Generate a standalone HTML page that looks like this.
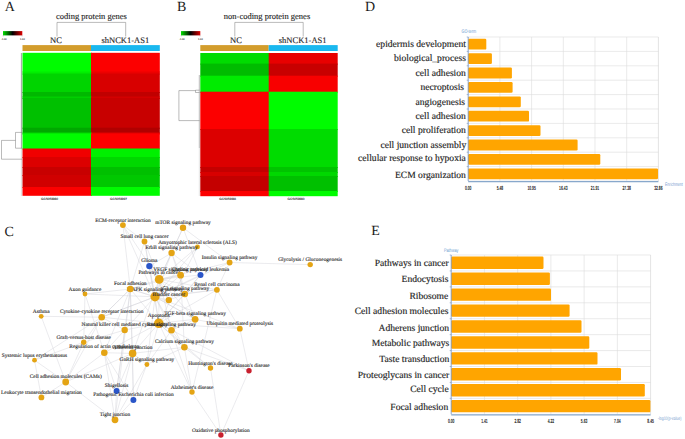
<!DOCTYPE html>
<html><head><meta charset="utf-8"><style>
html,body{margin:0;padding:0;background:#fff;width:685px;height:439px;overflow:hidden}
svg{display:block}
text{text-rendering:geometricPrecision}
</style></head><body>
<svg width="685" height="439" viewBox="0 0 685 439">
<rect width="685" height="439" fill="#fff"/>
<text x="4.70" y="10.50" font-size="14" fill="#1a1a1a" text-anchor="start" font-family='"Liberation Serif", serif' >A</text>
<text x="176.90" y="10.50" font-size="14" fill="#1a1a1a" text-anchor="start" font-family='"Liberation Serif", serif' >B</text>
<text x="4.60" y="235.50" font-size="14" fill="#1a1a1a" text-anchor="start" font-family='"Liberation Serif", serif' >C</text>
<text x="365.00" y="10.60" font-size="14" fill="#1a1a1a" text-anchor="start" font-family='"Liberation Serif", serif' >D</text>
<text x="371.20" y="235.40" font-size="14" fill="#1a1a1a" text-anchor="start" font-family='"Liberation Serif", serif' >E</text>
<defs><linearGradient id="lg22" x1="0" x2="1"><stop offset="0" stop-color="#00e000"/><stop offset="0.5" stop-color="#000"/><stop offset="1" stop-color="#e00000"/></linearGradient></defs>
<rect x="3.00" y="31.10" width="19.30" height="4.30" fill="url(#lg22)" />
<line x1="3.20" y1="35.40" x2="3.20" y2="36.40" stroke="#555" stroke-width="0.3" />
<line x1="22.10" y1="35.40" x2="22.10" y2="36.40" stroke="#555" stroke-width="0.3" />
<text x="1.20" y="39.90" font-size="2.4" fill="#333" text-anchor="start" font-family='"Liberation Sans", sans-serif' font-weight="bold">-1.00</text>
<text x="20.10" y="39.90" font-size="2.4" fill="#333" text-anchor="start" font-family='"Liberation Sans", sans-serif' font-weight="bold">1.00</text>
<text x="56.00" y="18.90" font-size="8.5" fill="#1e1e1e" text-anchor="start" font-family='"Liberation Serif", serif' stroke="#1e1e1e" stroke-width="0.12">coding protein genes</text>
<line x1="57.00" y1="22.40" x2="125.70" y2="22.40" stroke="#777" stroke-width="0.5" />
<line x1="57.00" y1="22.40" x2="57.00" y2="36.50" stroke="#777" stroke-width="0.5" />
<line x1="125.70" y1="22.40" x2="125.70" y2="36.50" stroke="#777" stroke-width="0.5" />
<text x="50.00" y="42.60" font-size="8.5" fill="#1e1e1e" text-anchor="start" font-family='"Liberation Serif", serif' stroke="#1e1e1e" stroke-width="0.12">NC</text>
<text x="101.50" y="42.60" font-size="8.5" fill="#1e1e1e" text-anchor="start" font-family='"Liberation Serif", serif' stroke="#1e1e1e" stroke-width="0.12">shNCK1-AS1</text>
<rect x="22.50" y="45.10" width="68.50" height="5.90" fill="#d39d2c" />
<rect x="91.00" y="45.10" width="68.80" height="5.90" fill="#1ab8ef" />
<rect x="22.50" y="52.80" width="69.50" height="19.70" fill="#00fc00" />
<rect x="91.00" y="52.80" width="68.80" height="19.70" fill="#fc0000" />
<rect x="22.50" y="71.50" width="69.50" height="3.00" fill="#00ee00" />
<rect x="91.00" y="71.50" width="68.80" height="3.00" fill="#ec0000" />
<rect x="22.50" y="73.50" width="69.50" height="19.50" fill="#00d400" />
<rect x="91.00" y="73.50" width="68.80" height="19.50" fill="#d80000" />
<rect x="22.50" y="92.00" width="69.50" height="5.50" fill="#00b800" />
<rect x="91.00" y="92.00" width="68.80" height="5.50" fill="#c00000" />
<rect x="22.50" y="96.50" width="69.50" height="2.50" fill="#00d000" />
<rect x="91.00" y="96.50" width="68.80" height="2.50" fill="#d40000" />
<rect x="22.50" y="98.00" width="69.50" height="30.70" fill="#00c000" />
<rect x="91.00" y="98.00" width="68.80" height="30.70" fill="#c80000" />
<rect x="22.50" y="127.70" width="69.50" height="5.80" fill="#00a800" />
<rect x="91.00" y="127.70" width="68.80" height="5.80" fill="#b00000" />
<rect x="22.50" y="132.50" width="69.50" height="2.00" fill="#00d800" />
<rect x="91.00" y="132.50" width="68.80" height="2.00" fill="#e00000" />
<rect x="22.50" y="133.50" width="69.50" height="16.00" fill="#00fc00" />
<rect x="91.00" y="133.50" width="68.80" height="16.00" fill="#fc0000" />
<rect x="22.50" y="148.50" width="69.50" height="9.50" fill="#f00000" />
<rect x="91.00" y="148.50" width="68.80" height="9.50" fill="#00f000" />
<rect x="22.50" y="157.00" width="69.50" height="11.00" fill="#dc0000" />
<rect x="91.00" y="157.00" width="68.80" height="11.00" fill="#00d800" />
<rect x="22.50" y="167.00" width="69.50" height="9.00" fill="#c80000" />
<rect x="91.00" y="167.00" width="68.80" height="9.00" fill="#00c000" />
<rect x="22.50" y="175.00" width="69.50" height="13.00" fill="#d00000" />
<rect x="91.00" y="175.00" width="68.80" height="13.00" fill="#00c800" />
<rect x="22.50" y="187.00" width="69.50" height="8.80" fill="#fc0000" />
<rect x="91.00" y="187.00" width="68.80" height="8.80" fill="#00fc00" />
<text x="41.00" y="199.60" font-size="3.1" fill="#333" text-anchor="start" font-family='"Liberation Sans", sans-serif' stroke="#333" stroke-width="0.1">GCS059980</text>
<text x="110.00" y="199.60" font-size="3.1" fill="#333" text-anchor="start" font-family='"Liberation Sans", sans-serif' stroke="#333" stroke-width="0.1">GCS059997</text>
<line x1="21.40" y1="53.00" x2="21.40" y2="148.50" stroke="#555" stroke-width="0.55" />
<line x1="21.40" y1="148.50" x2="21.40" y2="196.00" stroke="#bbb" stroke-width="0.5" />
<line x1="15.50" y1="132.40" x2="22.00" y2="132.40" stroke="#777" stroke-width="0.5" />
<line x1="15.50" y1="148.20" x2="22.00" y2="148.20" stroke="#777" stroke-width="0.5" />
<line x1="15.50" y1="132.40" x2="15.50" y2="148.20" stroke="#777" stroke-width="0.5" />
<line x1="1.50" y1="140.40" x2="15.50" y2="140.40" stroke="#777" stroke-width="0.5" />
<line x1="1.50" y1="159.20" x2="22.00" y2="159.20" stroke="#777" stroke-width="0.5" />
<line x1="1.50" y1="140.40" x2="1.50" y2="159.20" stroke="#777" stroke-width="0.5" />
<defs><linearGradient id="lg200" x1="0" x2="1"><stop offset="0" stop-color="#00e000"/><stop offset="0.5" stop-color="#000"/><stop offset="1" stop-color="#e00000"/></linearGradient></defs>
<rect x="181.00" y="31.10" width="19.30" height="4.30" fill="url(#lg200)" />
<line x1="181.20" y1="35.40" x2="181.20" y2="36.40" stroke="#555" stroke-width="0.3" />
<line x1="200.10" y1="35.40" x2="200.10" y2="36.40" stroke="#555" stroke-width="0.3" />
<text x="179.20" y="39.90" font-size="2.4" fill="#333" text-anchor="start" font-family='"Liberation Sans", sans-serif' font-weight="bold">-1.00</text>
<text x="198.10" y="39.90" font-size="2.4" fill="#333" text-anchor="start" font-family='"Liberation Sans", sans-serif' font-weight="bold">1.00</text>
<text x="223.80" y="18.90" font-size="8.5" fill="#1e1e1e" text-anchor="start" font-family='"Liberation Serif", serif' stroke="#1e1e1e" stroke-width="0.12">non-coding protein genes</text>
<line x1="234.80" y1="22.40" x2="303.20" y2="22.40" stroke="#777" stroke-width="0.5" />
<line x1="234.80" y1="22.40" x2="234.80" y2="36.50" stroke="#777" stroke-width="0.5" />
<line x1="303.20" y1="22.40" x2="303.20" y2="36.50" stroke="#777" stroke-width="0.5" />
<text x="230.00" y="42.60" font-size="8.5" fill="#1e1e1e" text-anchor="start" font-family='"Liberation Serif", serif' stroke="#1e1e1e" stroke-width="0.12">NC</text>
<text x="278.80" y="42.60" font-size="8.5" fill="#1e1e1e" text-anchor="start" font-family='"Liberation Serif", serif' stroke="#1e1e1e" stroke-width="0.12">shNCK1-AS1</text>
<rect x="200.30" y="45.10" width="68.40" height="5.90" fill="#d39d2c" />
<rect x="268.70" y="45.10" width="69.00" height="5.90" fill="#1ab8ef" />
<rect x="200.30" y="53.00" width="69.40" height="11.60" fill="#00dc00" />
<rect x="268.70" y="53.00" width="69.00" height="11.60" fill="#e80000" />
<rect x="200.30" y="63.60" width="69.40" height="13.10" fill="#00bc00" />
<rect x="268.70" y="63.60" width="69.00" height="13.10" fill="#c80000" />
<rect x="200.30" y="75.70" width="69.40" height="17.00" fill="#00ec00" />
<rect x="268.70" y="75.70" width="69.00" height="17.00" fill="#f80000" />
<rect x="200.30" y="91.70" width="69.40" height="38.30" fill="#fc0000" />
<rect x="268.70" y="91.70" width="69.00" height="38.30" fill="#00fc00" />
<rect x="200.30" y="129.00" width="69.40" height="39.00" fill="#dc0000" />
<rect x="268.70" y="129.00" width="69.00" height="39.00" fill="#00dc00" />
<rect x="200.30" y="167.00" width="69.40" height="6.00" fill="#c40000" />
<rect x="268.70" y="167.00" width="69.00" height="6.00" fill="#00c400" />
<rect x="200.30" y="172.00" width="69.40" height="5.00" fill="#d80000" />
<rect x="268.70" y="172.00" width="69.00" height="5.00" fill="#00d800" />
<rect x="200.30" y="176.00" width="69.40" height="16.00" fill="#c40000" />
<rect x="268.70" y="176.00" width="69.00" height="16.00" fill="#00c000" />
<rect x="200.30" y="191.00" width="69.40" height="5.20" fill="#fc0000" />
<rect x="268.70" y="191.00" width="69.00" height="5.20" fill="#00fc00" />
<text x="219.30" y="199.60" font-size="3.1" fill="#333" text-anchor="start" font-family='"Liberation Sans", sans-serif' stroke="#333" stroke-width="0.1">GCS059981</text>
<text x="287.50" y="199.60" font-size="3.1" fill="#333" text-anchor="start" font-family='"Liberation Sans", sans-serif' stroke="#333" stroke-width="0.1">GCS059980</text>
<line x1="199.30" y1="75.00" x2="199.30" y2="148.00" stroke="#777" stroke-width="0.5" />
<line x1="199.30" y1="148.00" x2="199.30" y2="196.00" stroke="#c8c8c8" stroke-width="0.5" />
<line x1="195.50" y1="90.20" x2="199.60" y2="90.20" stroke="#777" stroke-width="0.5" />
<line x1="195.50" y1="92.50" x2="199.60" y2="92.50" stroke="#777" stroke-width="0.5" />
<line x1="195.50" y1="90.20" x2="195.50" y2="92.50" stroke="#777" stroke-width="0.5" />
<line x1="178.90" y1="90.60" x2="195.50" y2="90.60" stroke="#777" stroke-width="0.5" />
<line x1="178.90" y1="120.60" x2="199.60" y2="120.60" stroke="#777" stroke-width="0.5" />
<line x1="178.90" y1="90.60" x2="178.90" y2="120.60" stroke="#777" stroke-width="0.5" />
<line x1="499.90" y1="37.00" x2="499.90" y2="181.00" stroke="#dcdcdc" stroke-width="0.6" />
<line x1="531.60" y1="37.00" x2="531.60" y2="181.00" stroke="#dcdcdc" stroke-width="0.6" />
<line x1="563.30" y1="37.00" x2="563.30" y2="181.00" stroke="#dcdcdc" stroke-width="0.6" />
<line x1="595.00" y1="37.00" x2="595.00" y2="181.00" stroke="#dcdcdc" stroke-width="0.6" />
<line x1="626.70" y1="37.00" x2="626.70" y2="181.00" stroke="#dcdcdc" stroke-width="0.6" />
<line x1="468.20" y1="37.00" x2="658.40" y2="37.00" stroke="#dcdcdc" stroke-width="0.6" />
<line x1="468.20" y1="51.40" x2="658.40" y2="51.40" stroke="#dcdcdc" stroke-width="0.6" />
<line x1="468.20" y1="65.80" x2="658.40" y2="65.80" stroke="#dcdcdc" stroke-width="0.6" />
<line x1="468.20" y1="80.20" x2="658.40" y2="80.20" stroke="#dcdcdc" stroke-width="0.6" />
<line x1="468.20" y1="94.60" x2="658.40" y2="94.60" stroke="#dcdcdc" stroke-width="0.6" />
<line x1="468.20" y1="109.00" x2="658.40" y2="109.00" stroke="#dcdcdc" stroke-width="0.6" />
<line x1="468.20" y1="123.40" x2="658.40" y2="123.40" stroke="#dcdcdc" stroke-width="0.6" />
<line x1="468.20" y1="137.80" x2="658.40" y2="137.80" stroke="#dcdcdc" stroke-width="0.6" />
<line x1="468.20" y1="152.20" x2="658.40" y2="152.20" stroke="#dcdcdc" stroke-width="0.6" />
<line x1="468.20" y1="166.60" x2="658.40" y2="166.60" stroke="#dcdcdc" stroke-width="0.6" />
<line x1="468.20" y1="181.00" x2="658.40" y2="181.00" stroke="#dcdcdc" stroke-width="0.6" />
<line x1="658.40" y1="37.00" x2="658.40" y2="181.00" stroke="#d0d0d0" stroke-width="0.6" />
<rect x="468.20" y="38.80" width="18.10" height="10.80" fill="#ffa500" rx="1.2"/>
<text x="465.90" y="47.00" font-size="9.6" fill="#1e1e1e" text-anchor="end" font-family='"Liberation Serif", serif' stroke="#1e1e1e" stroke-width="0.15">epidermis development</text>
<line x1="466.70" y1="37.00" x2="468.20" y2="37.00" stroke="#6d8fbf" stroke-width="0.6" />
<rect x="468.20" y="53.20" width="23.70" height="10.80" fill="#ffa500" rx="1.2"/>
<text x="465.90" y="61.40" font-size="9.6" fill="#1e1e1e" text-anchor="end" font-family='"Liberation Serif", serif' stroke="#1e1e1e" stroke-width="0.15">biological_process</text>
<line x1="466.70" y1="51.40" x2="468.20" y2="51.40" stroke="#6d8fbf" stroke-width="0.6" />
<rect x="468.20" y="67.60" width="43.70" height="10.80" fill="#ffa500" rx="1.2"/>
<text x="465.90" y="75.80" font-size="9.6" fill="#1e1e1e" text-anchor="end" font-family='"Liberation Serif", serif' stroke="#1e1e1e" stroke-width="0.15">cell adhesion</text>
<line x1="466.70" y1="65.80" x2="468.20" y2="65.80" stroke="#6d8fbf" stroke-width="0.6" />
<rect x="468.20" y="82.00" width="44.40" height="10.80" fill="#ffa500" rx="1.2"/>
<text x="464.10" y="90.20" font-size="9.6" fill="#1e1e1e" text-anchor="end" font-family='"Liberation Serif", serif' stroke="#1e1e1e" stroke-width="0.15">necroptosis</text>
<line x1="466.70" y1="80.20" x2="468.20" y2="80.20" stroke="#6d8fbf" stroke-width="0.6" />
<rect x="468.20" y="96.40" width="52.60" height="10.80" fill="#ffa500" rx="1.2"/>
<text x="465.10" y="104.60" font-size="9.6" fill="#1e1e1e" text-anchor="end" font-family='"Liberation Serif", serif' stroke="#1e1e1e" stroke-width="0.15">angiogenesis</text>
<line x1="466.70" y1="94.60" x2="468.20" y2="94.60" stroke="#6d8fbf" stroke-width="0.6" />
<rect x="468.20" y="110.80" width="60.80" height="10.80" fill="#ffa500" rx="1.2"/>
<text x="465.90" y="119.40" font-size="9.6" fill="#1e1e1e" text-anchor="end" font-family='"Liberation Serif", serif' stroke="#1e1e1e" stroke-width="0.15">cell adhesion</text>
<line x1="466.70" y1="109.00" x2="468.20" y2="109.00" stroke="#6d8fbf" stroke-width="0.6" />
<rect x="468.20" y="125.20" width="72.30" height="10.80" fill="#ffa500" rx="1.2"/>
<text x="465.90" y="133.40" font-size="9.6" fill="#1e1e1e" text-anchor="end" font-family='"Liberation Serif", serif' stroke="#1e1e1e" stroke-width="0.15">cell proliferation</text>
<line x1="466.70" y1="123.40" x2="468.20" y2="123.40" stroke="#6d8fbf" stroke-width="0.6" />
<rect x="468.20" y="139.60" width="109.40" height="10.80" fill="#ffa500" rx="1.2"/>
<text x="466.20" y="147.80" font-size="9.6" fill="#1e1e1e" text-anchor="end" font-family='"Liberation Serif", serif' stroke="#1e1e1e" stroke-width="0.15">cell junction assembly</text>
<line x1="466.70" y1="137.80" x2="468.20" y2="137.80" stroke="#6d8fbf" stroke-width="0.6" />
<rect x="468.20" y="154.00" width="132.10" height="10.80" fill="#ffa500" rx="1.2"/>
<text x="465.90" y="160.70" font-size="9.6" fill="#1e1e1e" text-anchor="end" font-family='"Liberation Serif", serif' stroke="#1e1e1e" stroke-width="0.15">cellular response to hypoxia</text>
<line x1="466.70" y1="152.20" x2="468.20" y2="152.20" stroke="#6d8fbf" stroke-width="0.6" />
<rect x="468.20" y="168.40" width="189.80" height="10.80" fill="#ffa500" rx="1.2"/>
<text x="465.90" y="177.80" font-size="9.6" fill="#1e1e1e" text-anchor="end" font-family='"Liberation Serif", serif' stroke="#1e1e1e" stroke-width="0.15">ECM organization</text>
<line x1="466.70" y1="166.60" x2="468.20" y2="166.60" stroke="#6d8fbf" stroke-width="0.6" />
<line x1="468.20" y1="37.00" x2="468.20" y2="181.00" stroke="#6d8fbf" stroke-width="0.8" />
<line x1="468.20" y1="181.60" x2="658.40" y2="181.60" stroke="#88a8cc" stroke-width="1.4" />
<text transform="translate(468.20,189.70) scale(0.56,1)" font-size="6.0" fill="#222" text-anchor="middle" font-family='"Liberation Sans", sans-serif' font-weight="bold">0.00</text>
<text transform="translate(499.90,189.70) scale(0.56,1)" font-size="6.0" fill="#222" text-anchor="middle" font-family='"Liberation Sans", sans-serif' font-weight="bold">5.48</text>
<text transform="translate(531.60,189.70) scale(0.56,1)" font-size="6.0" fill="#222" text-anchor="middle" font-family='"Liberation Sans", sans-serif' font-weight="bold">10.95</text>
<text transform="translate(563.30,189.70) scale(0.56,1)" font-size="6.0" fill="#222" text-anchor="middle" font-family='"Liberation Sans", sans-serif' font-weight="bold">16.43</text>
<text transform="translate(595.00,189.70) scale(0.56,1)" font-size="6.0" fill="#222" text-anchor="middle" font-family='"Liberation Sans", sans-serif' font-weight="bold">21.91</text>
<text transform="translate(626.70,189.70) scale(0.56,1)" font-size="6.0" fill="#222" text-anchor="middle" font-family='"Liberation Sans", sans-serif' font-weight="bold">27.38</text>
<text transform="translate(658.40,189.70) scale(0.56,1)" font-size="6.0" fill="#222" text-anchor="middle" font-family='"Liberation Sans", sans-serif' font-weight="bold">32.86</text>
<text transform="translate(461.50,32.60) scale(0.72,1)" font-size="5.2" fill="#6a9ad0" font-family='"Liberation Sans", sans-serif'>GO-term</text>
<text transform="translate(665.00,186.20) scale(0.7,1)" font-size="5.0" fill="#7aa0d0" font-family='"Liberation Sans", sans-serif'>Enrichment</text>
<line x1="484.43" y1="255.00" x2="484.43" y2="414.30" stroke="#dcdcdc" stroke-width="0.6" />
<line x1="517.67" y1="255.00" x2="517.67" y2="414.30" stroke="#dcdcdc" stroke-width="0.6" />
<line x1="550.90" y1="255.00" x2="550.90" y2="414.30" stroke="#dcdcdc" stroke-width="0.6" />
<line x1="584.13" y1="255.00" x2="584.13" y2="414.30" stroke="#dcdcdc" stroke-width="0.6" />
<line x1="617.37" y1="255.00" x2="617.37" y2="414.30" stroke="#dcdcdc" stroke-width="0.6" />
<line x1="451.20" y1="255.00" x2="650.60" y2="255.00" stroke="#dcdcdc" stroke-width="0.6" />
<line x1="451.20" y1="270.93" x2="650.60" y2="270.93" stroke="#dcdcdc" stroke-width="0.6" />
<line x1="451.20" y1="286.86" x2="650.60" y2="286.86" stroke="#dcdcdc" stroke-width="0.6" />
<line x1="451.20" y1="302.79" x2="650.60" y2="302.79" stroke="#dcdcdc" stroke-width="0.6" />
<line x1="451.20" y1="318.72" x2="650.60" y2="318.72" stroke="#dcdcdc" stroke-width="0.6" />
<line x1="451.20" y1="334.65" x2="650.60" y2="334.65" stroke="#dcdcdc" stroke-width="0.6" />
<line x1="451.20" y1="350.58" x2="650.60" y2="350.58" stroke="#dcdcdc" stroke-width="0.6" />
<line x1="451.20" y1="366.51" x2="650.60" y2="366.51" stroke="#dcdcdc" stroke-width="0.6" />
<line x1="451.20" y1="382.44" x2="650.60" y2="382.44" stroke="#dcdcdc" stroke-width="0.6" />
<line x1="451.20" y1="398.37" x2="650.60" y2="398.37" stroke="#dcdcdc" stroke-width="0.6" />
<line x1="451.20" y1="414.30" x2="650.60" y2="414.30" stroke="#dcdcdc" stroke-width="0.6" />
<line x1="650.60" y1="255.00" x2="650.60" y2="414.30" stroke="#d0d0d0" stroke-width="0.6" />
<rect x="451.20" y="256.60" width="92.30" height="12.40" fill="#ffa500" rx="1.2"/>
<text x="448.80" y="266.10" font-size="9.6" fill="#1e1e1e" text-anchor="end" font-family='"Liberation Serif", serif' stroke="#1e1e1e" stroke-width="0.15">Pathways in cancer</text>
<line x1="449.70" y1="255.00" x2="451.20" y2="255.00" stroke="#6d8fbf" stroke-width="0.6" />
<rect x="451.20" y="272.53" width="98.70" height="12.40" fill="#ffa500" rx="1.2"/>
<text x="448.50" y="282.23" font-size="9.6" fill="#1e1e1e" text-anchor="end" font-family='"Liberation Serif", serif' stroke="#1e1e1e" stroke-width="0.15">Endocytosis</text>
<line x1="449.70" y1="270.93" x2="451.20" y2="270.93" stroke="#6d8fbf" stroke-width="0.6" />
<rect x="451.20" y="288.46" width="99.80" height="12.40" fill="#ffa500" rx="1.2"/>
<text x="448.30" y="299.36" font-size="9.6" fill="#1e1e1e" text-anchor="end" font-family='"Liberation Serif", serif' stroke="#1e1e1e" stroke-width="0.15">Ribosome</text>
<line x1="449.70" y1="286.86" x2="451.20" y2="286.86" stroke="#6d8fbf" stroke-width="0.6" />
<rect x="451.20" y="304.39" width="118.40" height="12.40" fill="#ffa500" rx="1.2"/>
<text x="448.50" y="314.49" font-size="9.6" fill="#1e1e1e" text-anchor="end" font-family='"Liberation Serif", serif' stroke="#1e1e1e" stroke-width="0.15">Cell adhesion molecules</text>
<line x1="449.70" y1="302.79" x2="451.20" y2="302.79" stroke="#6d8fbf" stroke-width="0.6" />
<rect x="451.20" y="320.32" width="130.30" height="12.40" fill="#ffa500" rx="1.2"/>
<text x="449.10" y="330.92" font-size="9.6" fill="#1e1e1e" text-anchor="end" font-family='"Liberation Serif", serif' stroke="#1e1e1e" stroke-width="0.15">Adherens junction</text>
<line x1="449.70" y1="318.72" x2="451.20" y2="318.72" stroke="#6d8fbf" stroke-width="0.6" />
<rect x="451.20" y="336.25" width="138.10" height="12.40" fill="#ffa500" rx="1.2"/>
<text x="449.30" y="345.85" font-size="9.6" fill="#1e1e1e" text-anchor="end" font-family='"Liberation Serif", serif' stroke="#1e1e1e" stroke-width="0.15">Metabolic pathways</text>
<line x1="449.70" y1="334.65" x2="451.20" y2="334.65" stroke="#6d8fbf" stroke-width="0.6" />
<rect x="451.20" y="352.18" width="146.30" height="12.40" fill="#ffa500" rx="1.2"/>
<text x="449.30" y="361.78" font-size="9.6" fill="#1e1e1e" text-anchor="end" font-family='"Liberation Serif", serif' stroke="#1e1e1e" stroke-width="0.15">Taste transduction</text>
<line x1="449.70" y1="350.58" x2="451.20" y2="350.58" stroke="#6d8fbf" stroke-width="0.6" />
<rect x="451.20" y="368.11" width="169.80" height="12.40" fill="#ffa500" rx="1.2"/>
<text x="449.30" y="378.21" font-size="9.6" fill="#1e1e1e" text-anchor="end" font-family='"Liberation Serif", serif' stroke="#1e1e1e" stroke-width="0.15">Proteoglycans in cancer</text>
<line x1="449.70" y1="366.51" x2="451.20" y2="366.51" stroke="#6d8fbf" stroke-width="0.6" />
<rect x="451.20" y="384.04" width="193.60" height="12.40" fill="#ffa500" rx="1.2"/>
<text x="448.80" y="392.14" font-size="9.6" fill="#1e1e1e" text-anchor="end" font-family='"Liberation Serif", serif' stroke="#1e1e1e" stroke-width="0.15">Cell cycle</text>
<line x1="449.70" y1="382.44" x2="451.20" y2="382.44" stroke="#6d8fbf" stroke-width="0.6" />
<rect x="451.20" y="399.97" width="199.20" height="12.40" fill="#ffa500" rx="1.2"/>
<text x="448.20" y="409.87" font-size="9.6" fill="#1e1e1e" text-anchor="end" font-family='"Liberation Serif", serif' stroke="#1e1e1e" stroke-width="0.15">Focal adhesion</text>
<line x1="449.70" y1="398.37" x2="451.20" y2="398.37" stroke="#6d8fbf" stroke-width="0.6" />
<line x1="451.20" y1="255.00" x2="451.20" y2="414.30" stroke="#6d8fbf" stroke-width="0.8" />
<line x1="451.20" y1="414.90" x2="650.60" y2="414.90" stroke="#88a8cc" stroke-width="1.4" />
<text transform="translate(451.20,422.80) scale(0.56,1)" font-size="6.0" fill="#222" text-anchor="middle" font-family='"Liberation Sans", sans-serif' font-weight="bold">0.00</text>
<text transform="translate(484.43,422.80) scale(0.56,1)" font-size="6.0" fill="#222" text-anchor="middle" font-family='"Liberation Sans", sans-serif' font-weight="bold">1.41</text>
<text transform="translate(517.67,422.80) scale(0.56,1)" font-size="6.0" fill="#222" text-anchor="middle" font-family='"Liberation Sans", sans-serif' font-weight="bold">2.82</text>
<text transform="translate(550.90,422.80) scale(0.56,1)" font-size="6.0" fill="#222" text-anchor="middle" font-family='"Liberation Sans", sans-serif' font-weight="bold">4.22</text>
<text transform="translate(584.13,422.80) scale(0.56,1)" font-size="6.0" fill="#222" text-anchor="middle" font-family='"Liberation Sans", sans-serif' font-weight="bold">5.63</text>
<text transform="translate(617.37,422.80) scale(0.56,1)" font-size="6.0" fill="#222" text-anchor="middle" font-family='"Liberation Sans", sans-serif' font-weight="bold">7.04</text>
<text transform="translate(650.60,422.80) scale(0.56,1)" font-size="6.0" fill="#222" text-anchor="middle" font-family='"Liberation Sans", sans-serif' font-weight="bold">8.45</text>
<text transform="translate(444.00,252.20) scale(0.72,1)" font-size="5.2" fill="#6a9ad0" font-family='"Liberation Sans", sans-serif'>Pathway</text>
<text transform="translate(657.80,420.00) scale(0.7,1)" font-size="5.0" fill="#7aa0d0" font-family='"Liberation Sans", sans-serif'>-log10(p-value)</text>
<g stroke="#cfcfd6" stroke-width="0.42" fill="none">
<line x1="122.9" y1="225.1" x2="130.3" y2="289.0"/>
<line x1="122.9" y1="225.1" x2="159.2" y2="279.4"/>
<line x1="122.9" y1="225.1" x2="144.5" y2="241.5"/>
<line x1="122.9" y1="225.1" x2="155.0" y2="296.8"/>
<line x1="183.0" y1="227.7" x2="171.6" y2="253.0"/>
<line x1="183.0" y1="227.7" x2="159.2" y2="279.4"/>
<line x1="183.0" y1="227.7" x2="229.6" y2="262.5"/>
<line x1="183.0" y1="227.7" x2="200.5" y2="274.9"/>
<line x1="144.5" y1="241.5" x2="159.2" y2="279.4"/>
<line x1="144.5" y1="241.5" x2="130.3" y2="289.0"/>
<line x1="144.5" y1="241.5" x2="155.0" y2="296.8"/>
<line x1="144.5" y1="241.5" x2="158.8" y2="323.3"/>
<line x1="197.5" y1="246.9" x2="158.8" y2="323.3"/>
<line x1="197.5" y1="246.9" x2="155.0" y2="296.8"/>
<line x1="197.5" y1="246.9" x2="159.2" y2="279.4"/>
<line x1="171.6" y1="253.0" x2="159.2" y2="279.4"/>
<line x1="171.6" y1="253.0" x2="155.0" y2="296.8"/>
<line x1="171.6" y1="253.0" x2="149.4" y2="266.1"/>
<line x1="171.6" y1="253.0" x2="184.8" y2="294.0"/>
<line x1="171.6" y1="253.0" x2="180.6" y2="275.2"/>
<line x1="171.6" y1="253.0" x2="200.5" y2="274.9"/>
<line x1="149.4" y1="266.1" x2="159.2" y2="279.4"/>
<line x1="149.4" y1="266.1" x2="155.0" y2="296.8"/>
<line x1="149.4" y1="266.1" x2="168.8" y2="300.1"/>
<line x1="229.6" y1="262.5" x2="310.2" y2="264.6"/>
<line x1="229.6" y1="262.5" x2="155.0" y2="296.8"/>
<line x1="229.6" y1="262.5" x2="159.2" y2="279.4"/>
<line x1="229.6" y1="262.5" x2="216.9" y2="289.8"/>
<line x1="159.2" y1="279.4" x2="155.0" y2="296.8"/>
<line x1="159.2" y1="279.4" x2="130.3" y2="289.0"/>
<line x1="159.2" y1="279.4" x2="184.8" y2="294.0"/>
<line x1="159.2" y1="279.4" x2="180.6" y2="275.2"/>
<line x1="159.2" y1="279.4" x2="168.8" y2="300.1"/>
<line x1="159.2" y1="279.4" x2="158.8" y2="323.3"/>
<line x1="159.2" y1="279.4" x2="171.5" y2="330.3"/>
<line x1="159.2" y1="279.4" x2="200.5" y2="274.9"/>
<line x1="159.2" y1="279.4" x2="216.9" y2="289.8"/>
<line x1="159.2" y1="279.4" x2="195.1" y2="319.3"/>
<line x1="180.6" y1="275.2" x2="155.0" y2="296.8"/>
<line x1="180.6" y1="275.2" x2="184.8" y2="294.0"/>
<line x1="180.6" y1="275.2" x2="184.4" y2="347.3"/>
<line x1="180.6" y1="275.2" x2="130.3" y2="289.0"/>
<line x1="200.5" y1="274.9" x2="155.0" y2="296.8"/>
<line x1="200.5" y1="274.9" x2="184.8" y2="294.0"/>
<line x1="200.5" y1="274.9" x2="158.8" y2="323.3"/>
<line x1="130.3" y1="289.0" x2="155.0" y2="296.8"/>
<line x1="130.3" y1="289.0" x2="85.0" y2="294.0"/>
<line x1="130.3" y1="289.0" x2="101.7" y2="317.2"/>
<line x1="130.3" y1="289.0" x2="104.3" y2="352.7"/>
<line x1="130.3" y1="289.0" x2="158.8" y2="323.3"/>
<line x1="130.3" y1="289.0" x2="115.0" y2="419.8"/>
<line x1="130.3" y1="289.0" x2="132.6" y2="353.4"/>
<line x1="85.0" y1="294.0" x2="155.0" y2="296.8"/>
<line x1="85.0" y1="294.0" x2="83.7" y2="342.2"/>
<line x1="85.0" y1="294.0" x2="104.3" y2="352.7"/>
<line x1="155.0" y1="296.8" x2="184.8" y2="294.0"/>
<line x1="155.0" y1="296.8" x2="158.8" y2="323.3"/>
<line x1="155.0" y1="296.8" x2="195.1" y2="319.3"/>
<line x1="155.0" y1="296.8" x2="171.5" y2="330.3"/>
<line x1="155.0" y1="296.8" x2="101.7" y2="317.2"/>
<line x1="155.0" y1="296.8" x2="124.7" y2="330.0"/>
<line x1="155.0" y1="296.8" x2="184.4" y2="347.3"/>
<line x1="155.0" y1="296.8" x2="146.9" y2="364.5"/>
<line x1="155.0" y1="296.8" x2="216.9" y2="289.8"/>
<line x1="155.0" y1="296.8" x2="168.8" y2="300.1"/>
<line x1="184.8" y1="294.0" x2="158.8" y2="323.3"/>
<line x1="184.8" y1="294.0" x2="168.8" y2="300.1"/>
<line x1="184.8" y1="294.0" x2="216.9" y2="289.8"/>
<line x1="184.8" y1="294.0" x2="195.1" y2="319.3"/>
<line x1="216.9" y1="289.8" x2="239.8" y2="328.7"/>
<line x1="216.9" y1="289.8" x2="192.0" y2="392.0"/>
<line x1="216.9" y1="289.8" x2="158.8" y2="323.3"/>
<line x1="41.2" y1="316.3" x2="101.7" y2="317.2"/>
<line x1="41.2" y1="316.3" x2="65.7" y2="382.0"/>
<line x1="101.7" y1="317.2" x2="158.8" y2="323.3"/>
<line x1="101.7" y1="317.2" x2="124.7" y2="330.0"/>
<line x1="101.7" y1="317.2" x2="83.7" y2="342.2"/>
<line x1="101.7" y1="317.2" x2="65.7" y2="382.0"/>
<line x1="101.7" y1="317.2" x2="34.5" y2="360.2"/>
<line x1="101.7" y1="317.2" x2="155.0" y2="296.8"/>
<line x1="101.7" y1="317.2" x2="130.3" y2="289.0"/>
<line x1="195.1" y1="319.3" x2="158.8" y2="323.3"/>
<line x1="195.1" y1="319.3" x2="155.0" y2="296.8"/>
<line x1="195.1" y1="319.3" x2="239.8" y2="328.7"/>
<line x1="195.1" y1="319.3" x2="171.5" y2="330.3"/>
<line x1="158.8" y1="323.3" x2="124.7" y2="330.0"/>
<line x1="158.8" y1="323.3" x2="171.5" y2="330.3"/>
<line x1="158.8" y1="323.3" x2="184.4" y2="347.3"/>
<line x1="158.8" y1="323.3" x2="192.0" y2="392.0"/>
<line x1="158.8" y1="323.3" x2="210.5" y2="368.0"/>
<line x1="158.8" y1="323.3" x2="132.6" y2="353.4"/>
<line x1="158.8" y1="323.3" x2="104.3" y2="352.7"/>
<line x1="158.8" y1="323.3" x2="146.9" y2="364.5"/>
<line x1="158.8" y1="323.3" x2="239.8" y2="328.7"/>
<line x1="158.8" y1="323.3" x2="249.0" y2="370.7"/>
<line x1="171.5" y1="330.3" x2="184.4" y2="347.3"/>
<line x1="171.5" y1="330.3" x2="146.9" y2="364.5"/>
<line x1="171.5" y1="330.3" x2="192.0" y2="392.0"/>
<line x1="124.7" y1="330.0" x2="83.7" y2="342.2"/>
<line x1="124.7" y1="330.0" x2="104.3" y2="352.7"/>
<line x1="124.7" y1="330.0" x2="116.6" y2="391.0"/>
<line x1="239.8" y1="328.7" x2="249.0" y2="370.7"/>
<line x1="239.8" y1="328.7" x2="155.0" y2="296.8"/>
<line x1="83.7" y1="342.2" x2="65.7" y2="382.0"/>
<line x1="83.7" y1="342.2" x2="34.5" y2="360.2"/>
<line x1="184.4" y1="347.3" x2="192.0" y2="392.0"/>
<line x1="184.4" y1="347.3" x2="210.5" y2="368.0"/>
<line x1="184.4" y1="347.3" x2="146.9" y2="364.5"/>
<line x1="184.4" y1="347.3" x2="132.6" y2="353.4"/>
<line x1="104.3" y1="352.7" x2="132.6" y2="353.4"/>
<line x1="104.3" y1="352.7" x2="65.7" y2="382.0"/>
<line x1="104.3" y1="352.7" x2="116.6" y2="391.0"/>
<line x1="104.3" y1="352.7" x2="115.0" y2="419.8"/>
<line x1="104.3" y1="352.7" x2="133.4" y2="400.0"/>
<line x1="132.6" y1="353.4" x2="115.0" y2="419.8"/>
<line x1="132.6" y1="353.4" x2="116.6" y2="391.0"/>
<line x1="132.6" y1="353.4" x2="133.4" y2="400.0"/>
<line x1="132.6" y1="353.4" x2="65.7" y2="382.0"/>
<line x1="132.6" y1="353.4" x2="146.9" y2="364.5"/>
<line x1="34.5" y1="360.2" x2="41.4" y2="397.4"/>
<line x1="65.7" y1="382.0" x2="41.4" y2="397.4"/>
<line x1="65.7" y1="382.0" x2="115.0" y2="419.8"/>
<line x1="65.7" y1="382.0" x2="34.5" y2="360.2"/>
<line x1="146.9" y1="364.5" x2="115.0" y2="419.8"/>
<line x1="146.9" y1="364.5" x2="133.4" y2="400.0"/>
<line x1="210.5" y1="368.0" x2="220.9" y2="435.0"/>
<line x1="249.0" y1="370.7" x2="220.9" y2="435.0"/>
<line x1="192.0" y1="392.0" x2="220.9" y2="435.0"/>
<line x1="184.4" y1="347.3" x2="249.0" y2="370.7"/>
<line x1="116.6" y1="391.0" x2="115.0" y2="419.8"/>
<line x1="133.4" y1="400.0" x2="115.0" y2="419.8"/>
<line x1="116.6" y1="391.0" x2="130.3" y2="289.0"/>
<line x1="133.4" y1="400.0" x2="130.3" y2="289.0"/>
<line x1="155.0" y1="296.8" x2="130.3" y2="289.0"/>
<line x1="159.2" y1="279.4" x2="132.6" y2="353.4"/>
</g>
<circle cx="122.9" cy="225.1" r="2.90" fill="#e4a414"/>
<text x="122.90" y="221.50" font-size="5.4" fill="#262626" text-anchor="middle" font-family='"Liberation Serif", serif' stroke="#262626" stroke-width="0.12">ECM-receptor interaction</text>
<circle cx="183.0" cy="227.7" r="3.20" fill="#e4a414"/>
<text x="183.00" y="223.80" font-size="5.4" fill="#262626" text-anchor="middle" font-family='"Liberation Serif", serif' stroke="#262626" stroke-width="0.12">mTOR signaling pathway</text>
<circle cx="144.5" cy="241.5" r="2.90" fill="#e4a414"/>
<text x="144.50" y="237.90" font-size="5.4" fill="#262626" text-anchor="middle" font-family='"Liberation Serif", serif' stroke="#262626" stroke-width="0.12">Small cell lung cancer</text>
<circle cx="197.5" cy="246.9" r="2.40" fill="#e4a414"/>
<text x="197.50" y="243.80" font-size="5.4" fill="#262626" text-anchor="middle" font-family='"Liberation Serif", serif' stroke="#262626" stroke-width="0.12">Amyotrophic lateral sclerosis (ALS)</text>
<circle cx="171.6" cy="253.0" r="3.20" fill="#e4a414"/>
<text x="171.60" y="249.10" font-size="5.4" fill="#262626" text-anchor="middle" font-family='"Liberation Serif", serif' stroke="#262626" stroke-width="0.12">ErbB signaling pathway</text>
<circle cx="149.4" cy="266.1" r="3.20" fill="#2a55c8"/>
<text x="149.40" y="262.20" font-size="5.4" fill="#262626" text-anchor="middle" font-family='"Liberation Serif", serif' stroke="#262626" stroke-width="0.12">Glioma</text>
<circle cx="229.6" cy="262.5" r="2.90" fill="#e4a414"/>
<text x="229.60" y="258.90" font-size="5.4" fill="#262626" text-anchor="middle" font-family='"Liberation Serif", serif' stroke="#262626" stroke-width="0.12">Insulin signaling pathway</text>
<circle cx="310.2" cy="264.6" r="2.70" fill="#e4a414"/>
<text x="310.20" y="261.20" font-size="5.4" fill="#262626" text-anchor="middle" font-family='"Liberation Serif", serif' stroke="#262626" stroke-width="0.12">Glycolysis / Gluconeogenesis</text>
<circle cx="155.0" cy="296.8" r="4.60" fill="#e4a414"/>
<text x="155.00" y="291.10" font-size="5.4" fill="#262626" text-anchor="middle" font-family='"Liberation Serif", serif' stroke="#262626" stroke-width="0.12">MAPK signaling pathway</text>
<circle cx="159.2" cy="279.4" r="4.40" fill="#e4a414"/>
<text x="159.20" y="273.90" font-size="5.4" fill="#262626" text-anchor="middle" font-family='"Liberation Serif", serif' stroke="#262626" stroke-width="0.12">Pathways in cancer</text>
<circle cx="180.6" cy="275.2" r="3.40" fill="#e4a414"/>
<text x="180.60" y="271.10" font-size="5.4" fill="#262626" text-anchor="middle" font-family='"Liberation Serif", serif' stroke="#262626" stroke-width="0.12">VEGF signaling pathway</text>
<circle cx="200.5" cy="274.9" r="3.00" fill="#2a55c8"/>
<text x="200.50" y="271.20" font-size="5.4" fill="#262626" text-anchor="middle" font-family='"Liberation Serif", serif' stroke="#262626" stroke-width="0.12">Chronic myeloid leukemia</text>
<circle cx="130.3" cy="289.0" r="3.30" fill="#e4a414"/>
<text x="130.30" y="284.60" font-size="5.4" fill="#262626" text-anchor="middle" font-family='"Liberation Serif", serif' stroke="#262626" stroke-width="0.12">Focal adhesion</text>
<circle cx="85.0" cy="294.0" r="2.40" fill="#e4a414"/>
<text x="85.00" y="290.90" font-size="5.4" fill="#262626" text-anchor="middle" font-family='"Liberation Serif", serif' stroke="#262626" stroke-width="0.12">Axon guidance</text>
<circle cx="184.8" cy="294.0" r="3.30" fill="#e4a414"/>
<text x="184.80" y="289.60" font-size="5.4" fill="#262626" text-anchor="middle" font-family='"Liberation Serif", serif' stroke="#262626" stroke-width="0.12">p53 signaling pathway</text>
<circle cx="168.8" cy="300.1" r="3.20" fill="#e4a414"/>
<text x="168.80" y="296.20" font-size="5.4" fill="#262626" text-anchor="middle" font-family='"Liberation Serif", serif' stroke="#262626" stroke-width="0.12">Bladder cancer</text>
<circle cx="216.9" cy="289.8" r="2.90" fill="#e4a414"/>
<text x="216.90" y="286.20" font-size="5.4" fill="#262626" text-anchor="middle" font-family='"Liberation Serif", serif' stroke="#262626" stroke-width="0.12">Renal cell carcinoma</text>
<circle cx="41.2" cy="316.3" r="2.40" fill="#e4a414"/>
<text x="41.20" y="313.20" font-size="5.4" fill="#262626" text-anchor="middle" font-family='"Liberation Serif", serif' stroke="#262626" stroke-width="0.12">Asthma</text>
<circle cx="101.7" cy="317.2" r="3.30" fill="#e4a414"/>
<text x="101.70" y="312.80" font-size="5.4" fill="#262626" text-anchor="middle" font-family='"Liberation Serif", serif' stroke="#262626" stroke-width="0.12">Cytokine-cytokine receptor interaction</text>
<circle cx="195.1" cy="319.3" r="3.40" fill="#e4a414"/>
<text x="195.10" y="315.20" font-size="5.4" fill="#262626" text-anchor="middle" font-family='"Liberation Serif", serif' stroke="#262626" stroke-width="0.12">TGF-beta signaling pathway</text>
<circle cx="158.8" cy="323.3" r="4.80" fill="#e4a414"/>
<text x="158.80" y="317.40" font-size="5.4" fill="#262626" text-anchor="middle" font-family='"Liberation Serif", serif' stroke="#262626" stroke-width="0.12">Apoptosis</text>
<circle cx="171.5" cy="330.3" r="3.30" fill="#e4a414"/>
<text x="171.50" y="325.90" font-size="5.4" fill="#262626" text-anchor="middle" font-family='"Liberation Serif", serif' stroke="#262626" stroke-width="0.12">Ras signaling pathway</text>
<circle cx="124.7" cy="330.0" r="3.20" fill="#e4a414"/>
<text x="124.70" y="326.10" font-size="5.4" fill="#262626" text-anchor="middle" font-family='"Liberation Serif", serif' stroke="#262626" stroke-width="0.12">Natural killer cell mediated cytotoxicity</text>
<circle cx="239.8" cy="328.7" r="2.90" fill="#e4a414"/>
<text x="239.80" y="325.10" font-size="5.4" fill="#262626" text-anchor="middle" font-family='"Liberation Serif", serif' stroke="#262626" stroke-width="0.12">Ubiquitin mediated proteolysis</text>
<circle cx="83.7" cy="342.2" r="2.70" fill="#e4a414"/>
<text x="83.70" y="338.80" font-size="5.4" fill="#262626" text-anchor="middle" font-family='"Liberation Serif", serif' stroke="#262626" stroke-width="0.12">Graft-versus-host disease</text>
<circle cx="184.4" cy="347.3" r="3.30" fill="#e4a414"/>
<text x="184.40" y="342.90" font-size="5.4" fill="#262626" text-anchor="middle" font-family='"Liberation Serif", serif' stroke="#262626" stroke-width="0.12">Calcium signaling pathway</text>
<circle cx="104.3" cy="352.7" r="3.30" fill="#e4a414"/>
<text x="104.30" y="348.30" font-size="5.4" fill="#262626" text-anchor="middle" font-family='"Liberation Serif", serif' stroke="#262626" stroke-width="0.12">Regulation of actin cytoskeleton</text>
<circle cx="132.6" cy="353.4" r="3.80" fill="#e4a414"/>
<text x="132.60" y="348.50" font-size="5.4" fill="#262626" text-anchor="middle" font-family='"Liberation Serif", serif' stroke="#262626" stroke-width="0.12">Adherens junction</text>
<circle cx="34.5" cy="360.2" r="2.40" fill="#e4a414"/>
<text x="34.50" y="357.10" font-size="5.4" fill="#262626" text-anchor="middle" font-family='"Liberation Serif", serif' stroke="#262626" stroke-width="0.12">Systemic lupus erythematosus</text>
<circle cx="146.9" cy="364.5" r="2.40" fill="#e4a414"/>
<text x="146.90" y="361.40" font-size="5.4" fill="#262626" text-anchor="middle" font-family='"Liberation Serif", serif' stroke="#262626" stroke-width="0.12">GnRH signaling pathway</text>
<circle cx="210.5" cy="368.0" r="2.70" fill="#e4a414"/>
<text x="210.50" y="364.60" font-size="5.4" fill="#262626" text-anchor="middle" font-family='"Liberation Serif", serif' stroke="#262626" stroke-width="0.12">Huntington's disease</text>
<circle cx="249.0" cy="370.7" r="2.70" fill="#c8202e"/>
<text x="249.00" y="367.30" font-size="5.4" fill="#262626" text-anchor="middle" font-family='"Liberation Serif", serif' stroke="#262626" stroke-width="0.12">Parkinson's disease</text>
<circle cx="65.7" cy="382.0" r="3.40" fill="#e4a414"/>
<text x="65.70" y="377.90" font-size="5.4" fill="#262626" text-anchor="middle" font-family='"Liberation Serif", serif' stroke="#262626" stroke-width="0.12">Cell adhesion molecules (CAMs)</text>
<circle cx="116.6" cy="391.0" r="3.00" fill="#2a55c8"/>
<text x="116.60" y="387.30" font-size="5.4" fill="#262626" text-anchor="middle" font-family='"Liberation Serif", serif' stroke="#262626" stroke-width="0.12">Shigellosis</text>
<circle cx="192.0" cy="392.0" r="2.70" fill="#e4a414"/>
<text x="192.00" y="388.60" font-size="5.4" fill="#262626" text-anchor="middle" font-family='"Liberation Serif", serif' stroke="#262626" stroke-width="0.12">Alzheimer's disease</text>
<circle cx="41.4" cy="397.4" r="2.90" fill="#e4a414"/>
<text x="41.40" y="393.80" font-size="5.4" fill="#262626" text-anchor="middle" font-family='"Liberation Serif", serif' stroke="#262626" stroke-width="0.12">Leukocyte transendothelial migration</text>
<circle cx="133.4" cy="400.0" r="3.00" fill="#2a55c8"/>
<text x="133.40" y="396.30" font-size="5.4" fill="#262626" text-anchor="middle" font-family='"Liberation Serif", serif' stroke="#262626" stroke-width="0.12">Pathogenic Escherichia coli infection</text>
<circle cx="115.0" cy="419.8" r="3.40" fill="#e4a414"/>
<text x="115.00" y="415.70" font-size="5.4" fill="#262626" text-anchor="middle" font-family='"Liberation Serif", serif' stroke="#262626" stroke-width="0.12">Tight junction</text>
<circle cx="220.9" cy="435.0" r="2.70" fill="#c8202e"/>
<text x="220.90" y="431.60" font-size="5.4" fill="#262626" text-anchor="middle" font-family='"Liberation Serif", serif' stroke="#262626" stroke-width="0.12">Oxidative phosphorylation</text>
</svg>
</body></html>
